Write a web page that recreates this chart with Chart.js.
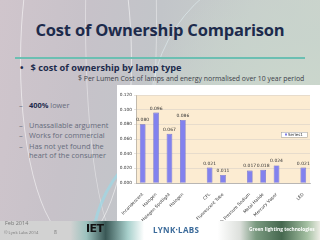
<!DOCTYPE html>
<html><head><meta charset="utf-8">
<script src="https://cdn.jsdelivr.net/npm/chart.js@4"></script>
<style>
html,body{margin:0;padding:0;width:320px;height:240px;overflow:hidden;}
#slide{position:absolute;left:0;top:0;width:320px;height:240px;overflow:hidden;
background:
 radial-gradient(ellipse 170px 150px at 300px 120px, rgba(204,216,204,0.95) 0%, rgba(200,212,204,0.8) 55%, rgba(195,205,205,0) 100%),
 linear-gradient(100deg,#d0c5cc 0%,#c7c2c9 25%,#c2c5c9 45%,#c8cfcc 70%,#ccd6cc 100%);}
.arc{position:absolute;border:1.5px solid rgba(255,255,255,0.55);border-radius:50%;}
#title{position:absolute;left:0;top:18px;width:320px;text-align:center;font-family:"Open Sans",sans-serif;font-weight:700;font-size:16.5px;color:#1d2b4c;letter-spacing:-0.2px;}
#rule{position:absolute;left:15px;top:57px;width:290px;height:2px;background:#6bbfb2;}
#b1{position:absolute;left:20px;top:61px;font-family:"Open Sans",sans-serif;font-weight:700;font-size:9.2px;color:#1d2b4c;white-space:nowrap;}
#sub{position:absolute;left:78px;top:74px;font-family:"Open Sans",sans-serif;font-size:6.9px;color:#3c4048;white-space:nowrap;}
.li{position:absolute;left:29px;font-family:"Open Sans",sans-serif;font-size:7.4px;color:#666c7c;white-space:nowrap;line-height:8px;}
.li b{color:#1d2b4c;}
.dash{position:absolute;left:19px;font-family:"Open Sans",sans-serif;font-size:7.4px;color:#666c7c;line-height:8px;}
#chartbox{position:absolute;left:117px;top:85px;width:203px;height:137px;background:#fff;}
#footer{position:absolute;left:0;top:221px;width:320px;height:19px;
background:linear-gradient(90deg,#d2d2d2 0%,#d2d2d2 22%,#9cc2be 27%,#3a5856 33%,#a8d0cc 40%,#ffffff 45%,#ffffff 68%,#dde0dc 75%,#7a9a80 80%,#46684f 88%,#a4c0a2 96%,#ecece4 100%);}
.ft{position:absolute;font-family:"Open Sans",sans-serif;color:#777;white-space:nowrap;}
</style></head>
<body>
<div id="slide">
 <div class="arc" style="left:20px;top:-120px;width:110px;height:360px;"></div>
 <div class="arc" style="left:85px;top:-200px;width:70px;height:440px;border-color:rgba(255,255,255,0.4)"></div>
 <div class="arc" style="left:150px;top:-40px;width:300px;height:300px;border-color:rgba(230,245,250,0.5)"></div>
 <div class="arc" style="left:90px;top:120px;width:260px;height:260px;border:3px solid rgba(150,220,235,0.6)"></div>
 <div id="title">Cost of Ownership Comparison</div>
 <div id="rule"></div>
 <div id="b1">•&nbsp;&nbsp;&nbsp;$ cost of ownership by lamp type</div>
 <div id="sub">$ Per Lumen Cost of lamps and energy normalised over 10 year period</div>
 <div class="dash" style="top:101px;">–</div><div class="li" style="top:101px;"><b>400%</b> lower</div>
 <div class="dash" style="top:121px;">–</div><div class="li" style="top:121px;">Unassailable argument</div>
 <div class="dash" style="top:131px;">–</div><div class="li" style="top:131px;">Works for commercial</div>
 <div class="dash" style="top:142px;">–</div><div class="li" style="top:142px;">Has not yet found the</div>
 <div class="li" style="top:151px;">heart of the consumer</div>
 <div id="chartbox"><canvas id="c" width="203" height="137"></canvas></div>
 <div id="footer">
  <div class="ft" style="left:86px;top:1px;font-family:'DejaVu Sans';font-weight:900;font-size:11px;color:#111;letter-spacing:-0.5px;">IET</div>
  <div class="ft" style="left:153px;top:3px;font-size:8px;color:#3a6a9a;font-weight:700;letter-spacing:0.3px;">LYNK·LABS</div>
  <div class="ft" style="left:249px;top:5px;font-size:4.8px;color:#fff;font-weight:700;">Green lighting technologies</div>
 </div>
 <div class="ft" style="left:5px;top:219px;font-size:5.5px;">Feb 2014</div>
 <div class="ft" style="left:4px;top:230px;font-size:4.2px;">© Lynk Labs 2014</div>
 <div class="ft" style="left:54px;top:229px;font-size:5px;">8</div>
</div>
<script>
const categories = ["Incandescent","Halogen","Quartz Halogen Spotlight","Halogen","","CFL","Fluorescent Tube","","High Pressure Sodium","Metal Halide","Mercury Vapor","","LED"];
const series1 = [0.080,0.096,0.067,0.086,null,0.021,0.011,null,0.017,0.018,0.024,null,0.021];
const yTicks = [0,0.02,0.04,0.06,0.08,0.1,0.12];
const seriesName = "Series1";

const plotBg = {
 id:'plotBg',
 beforeDraw(chart){
  const {ctx,chartArea:a}=chart;
  ctx.save();ctx.fillStyle='#fcecd2';ctx.fillRect(a.left,a.top,a.right-a.left,a.bottom-a.top);ctx.restore();
 }
};
const valueLabels = {
 id:'valueLabels',
 afterDatasetsDraw(chart){
  const ctx=chart.ctx;const meta=chart.getDatasetMeta(0);
  ctx.save();ctx.font='4.5px "DejaVu Sans"';ctx.fillStyle='#333';ctx.textAlign='center';ctx.textBaseline='bottom';
  meta.data.forEach((el,i)=>{const v=series1[i];if(v==null)return;ctx.fillText(v.toFixed(3),el.x,el.y-2);});
  ctx.restore();
 }
};
const legendBox = {
 id:'legendBox',
 afterDraw(chart){
  const ctx=chart.ctx;const a=chart.chartArea;
  const x=a.right-29,y=a.top+37,w=26,h=5;
  ctx.save();ctx.fillStyle='#fff';ctx.fillRect(x,y,w,h);ctx.strokeStyle='#999';ctx.lineWidth=0.5;ctx.strokeRect(x+0.25,y+0.25,w,h);
  ctx.fillStyle='#7f7fe8';ctx.fillRect(x+4,y+1.5,2,2);
  ctx.fillStyle='#333';ctx.font='4px "DejaVu Sans"';ctx.textBaseline='middle';ctx.fillText(seriesName,x+7,y+h/2+0.3);
  ctx.restore();
 }
};
new Chart(document.getElementById('c'),{
 type:'bar',
 data:{labels:categories,datasets:[{label:seriesName,data:series1,backgroundColor:'#8282ee',borderColor:'#5c5cc0',borderWidth:0.6,categoryPercentage:0.5,barPercentage:0.85}]},
 options:{
  responsive:false,animation:false,devicePixelRatio:1,
  layout:{padding:{top:10,right:10,left:0,bottom:0}},
  plugins:{legend:{display:false},tooltip:{enabled:false}},
  scales:{
   x:{grid:{display:false},border:{color:'#888',width:0.5},
      ticks:{autoSkip:false,maxRotation:45,minRotation:45,font:{size:4.3,family:'DejaVu Sans'},color:'#333',padding:1},
      afterFit(s){s.height=39;}},
   y:{min:0,max:0.12,border:{color:'#888',width:0.5},grid:{color:'#d8d2c8',lineWidth:0.6,drawTicks:true,tickLength:2},
      afterBuildTicks(s){s.ticks=yTicks.map(v=>({value:v}));},
      ticks:{font:{size:4.3,family:'DejaVu Sans'},color:'#333',padding:2,callback:v=>v.toFixed(3)},
      afterFit(s){s.width=19;}}
  }
 },
 plugins:[plotBg,valueLabels,legendBox]
});
</script>
</body></html>
